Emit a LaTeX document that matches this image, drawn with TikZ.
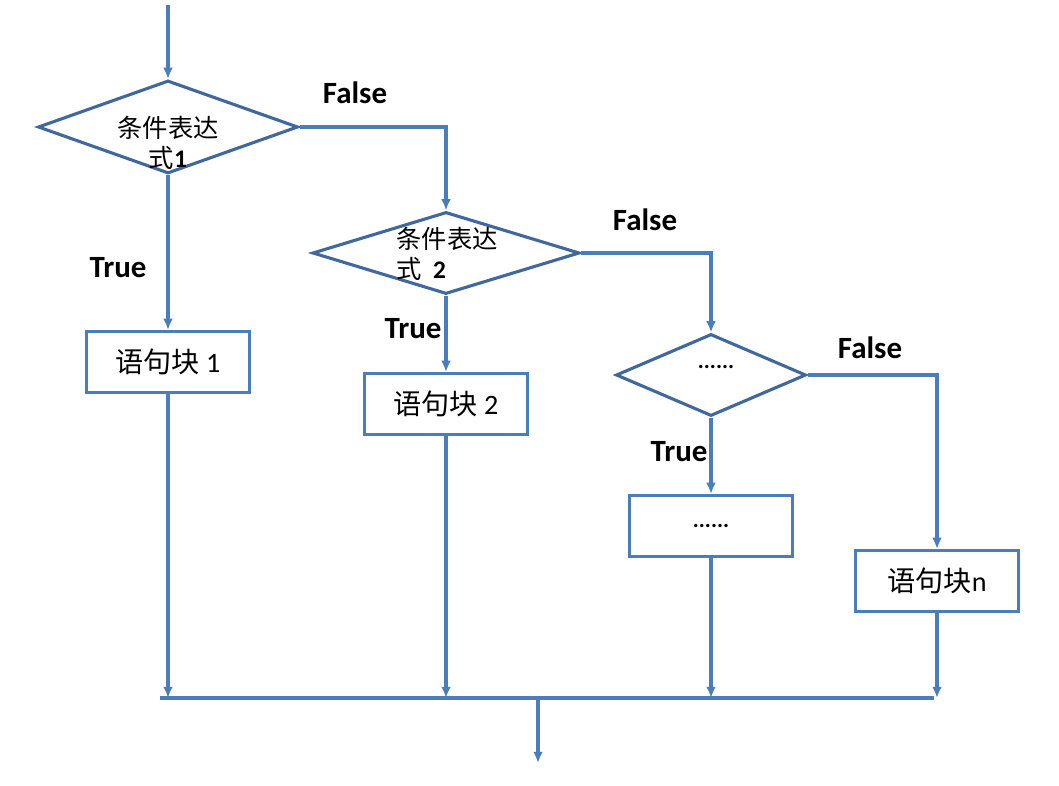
\documentclass[tikz,border=0pt]{standalone}
\usepackage{fontspec}
\setmainfont{Carlito}
\newfontfamily\cjk{Noto Sans CJK SC}
\usetikzlibrary{shapes.geometric,arrows.meta}

\definecolor{linie}{HTML}{4A7EBB}
\definecolor{rand}{HTML}{41689C}

\tikzset{
	cond/.style={diamond,draw=rand,line width=2.2pt,inner sep=0pt},
	block/.style={draw=linie,line width=2.2pt,inner sep=0pt,
		minimum width=4.075cm,minimum height=1.525cm,
		font=\fontsize{20}{24}\selectfont},
	ctext/.style={inner sep=0pt,font=\fontsize{18}{21}\selectfont},
	tf/.style={inner sep=0pt,font=\fontsize{22}{26}\selectfont\bfseries},
	flow/.style={draw=linie,line width=2.4pt,->},
}

\begin{document}
\begin{tikzpicture}[x=0.025cm,y=-0.025cm,>={Latex[length=8pt,width=7pt]}]

\useasboundingbox (0,0) rectangle (1059,786);

\node[cond,minimum width=6.5cm,minimum height=2.325cm] (c1) at (168,127) {};
\node[ctext,align=center] (t1) at (168,143) {{\cjk 条件表达}\\{\cjk 式}\textbf{1}};

\node[cond,minimum width=6.675cm,minimum height=2.05cm] (c2) at (446,253) {};
\node[ctext,align=left] (t2) at (447,254) {{\cjk 条件表达}\\{\cjk 式}\ \ \textbf{2}};

\node[cond,minimum width=4.75cm,minimum height=2.05cm] (c3) at (711,375) {};
\node[ctext,anchor=base,font=\fontsize{16}{19}\selectfont\bfseries] (t3) at (716,369) {......};

\node[block] (b1) at (168,362) {{\cjk 语句块} 1};
\node[block] (b2) at (446,404) {{\cjk 语句块} 2};
\node[block,font=\fontsize{16}{19}\selectfont\bfseries] (b3) at (711,526) {......};
\node[block] (bn) at (937,581) {{\cjk 语句块}n};

\node[tf] (f1) at (355,93) {False};
\node[tf] (f2) at (645,220) {False};
\node[tf] (f3) at (870,348) {False};
\node[tf] (w1) at (118,268) {True};
\node[tf] (w2) at (413,329) {True};
\node[tf] (w3) at (679,452) {True};

\coordinate (ein) at (168,5);
\coordinate (ml) at (160,698);
\coordinate (mr) at (934,698);
\coordinate (aus) at (538,763);

\draw[flow] (ein) -- (c1.north);
\draw[flow] (c1.east) -| (c2.north);
\draw[flow] (c2.east) -| (c3.north);
\draw[flow] (c3.east) -| (bn.north);
\draw[flow] (c1.south) -- (b1.north);
\draw[flow] (c2.south) -- (b2.north);
\draw[flow] (c3.south) -- (b3.north);

\draw[draw=linie,line width=2.4pt] (ml) -- (mr);
\draw[flow] (b1.south) -- (b1.south |- ml);
\draw[flow] (b2.south) -- (b2.south |- ml);
\draw[flow] (b3.south) -- (b3.south |- ml);
\draw[flow] (bn.south) -- (bn.south |- ml);
\draw[flow] (aus |- ml) -- (aus);

\end{tikzpicture}
\end{document}
